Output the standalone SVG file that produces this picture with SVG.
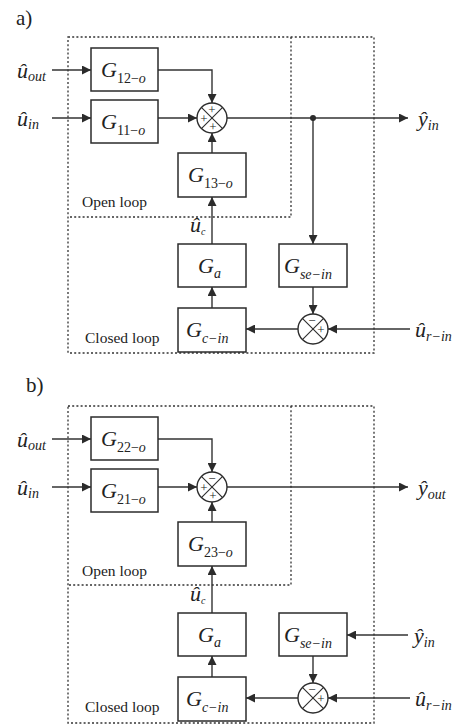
<svg xmlns="http://www.w3.org/2000/svg" width="474" height="724" viewBox="0 0 474 724">
<style>
.box{fill:#fff;stroke:#2b2b2b;stroke-width:1.5}
.ln{fill:none;stroke:#333;stroke-width:1.4}
.dot{fill:none;stroke:#333;stroke-width:1.3;stroke-dasharray:2 2.2}
.sum{fill:#fff;stroke:#2b2b2b;stroke-width:1.4}
.x{stroke:#2b2b2b;stroke-width:1.1}
.t{font-family:"Liberation Serif","Times New Roman",serif;fill:#222}
.g{font-size:22px;font-style:italic}
.s{font-size:14px}
.i{font-style:italic}
.n{font-style:normal}
.sg{font-family:"Liberation Serif",serif;font-size:13px;fill:#222;text-anchor:middle}
.lbl{font-size:15.5px}
.hd{font-size:21px}
</style>
<defs>
<marker id="ar" viewBox="0 0 10 10" refX="10" refY="5" markerWidth="9" markerHeight="9" markerUnits="userSpaceOnUse" orient="auto">
<path d="M0,0 L10,5 L0,10 z" fill="#2b2b2b"/>
</marker>
</defs>

<!-- Panel a -->
<g id="panel-a">
<text class="t hd" x="16" y="25">a)</text>
<g id="a-regions">
<rect class="dot" x="68" y="37" width="306" height="316"/>
<path class="dot" d="M291,37 V217 H68"/>
<text class="t lbl" x="82" y="207">Open loop</text>
<text class="t lbl" x="85" y="343">Closed loop</text>
</g>
<g id="a-connectors">
<line class="ln" x1="52" y1="70" x2="91" y2="70" marker-end="url(#ar)"/>
<line class="ln" x1="52" y1="118" x2="91" y2="118" marker-end="url(#ar)"/>
<path class="ln" d="M158,70 H212 V103" marker-end="url(#ar)"/>
<line class="ln" x1="158" y1="118" x2="197" y2="118" marker-end="url(#ar)"/>
<line class="ln" x1="212" y1="153" x2="212" y2="133" marker-end="url(#ar)"/>
<line class="ln" x1="227" y1="118" x2="408" y2="118" marker-end="url(#ar)"/>
<line class="ln" x1="313" y1="118" x2="313" y2="244" marker-end="url(#ar)"/>
<line class="ln" x1="313" y1="287" x2="313" y2="314" marker-end="url(#ar)"/>
<line class="ln" x1="298" y1="329" x2="246" y2="329" marker-end="url(#ar)"/>
<line class="ln" x1="410" y1="329" x2="328" y2="329" marker-end="url(#ar)"/>
<line class="ln" x1="212" y1="308" x2="212" y2="287" marker-end="url(#ar)"/>
<line class="ln" x1="212" y1="244" x2="212" y2="197" marker-end="url(#ar)"/>
<circle cx="313" cy="118" r="3" fill="#2b2b2b"/>
</g>
<g id="a-in-uout"><text class="t" x="17" y="78"><tspan class="g">û</tspan><tspan class="s i" dy="3">out</tspan></text></g>
<g id="a-in-uin"><text class="t" x="17" y="126"><tspan class="g">û</tspan><tspan class="s i" dy="3">in</tspan></text></g>
<g id="a-out-yin"><text class="t" x="418" y="126"><tspan class="g">ŷ</tspan><tspan class="s i" dy="4">in</tspan></text></g>
<g id="a-in-urin"><text class="t" x="415" y="337"><tspan class="g">û</tspan><tspan class="s i" dy="4">r−in</tspan></text></g>
<g id="a-uc"><text class="t" x="190" y="232"><tspan class="g" font-size="19">û</tspan><tspan class="i" font-size="10" dy="3">c</tspan></text></g>
<g id="a-G12"><rect class="box" x="91" y="48" width="67" height="43"/><text class="t" x="101" y="77"><tspan class="g">G</tspan><tspan class="s n" dy="6">12−</tspan><tspan class="s i">o</tspan></text></g>
<g id="a-G11"><rect class="box" x="91" y="100" width="67" height="43"/><text class="t" x="101" y="129"><tspan class="g">G</tspan><tspan class="s n" dy="6">11−</tspan><tspan class="s i">o</tspan></text></g>
<g id="a-G13"><rect class="box" x="178" y="153" width="68" height="44"/><text class="t" x="188" y="182"><tspan class="g">G</tspan><tspan class="s n" dy="6">13−</tspan><tspan class="s i">o</tspan></text></g>
<g id="a-Ga"><rect class="box" x="178" y="244" width="68" height="43"/><text class="t" x="198" y="273"><tspan class="g">G</tspan><tspan class="s i" dy="5">a</tspan></text></g>
<g id="a-Gc"><rect class="box" x="178" y="308" width="68" height="44"/><text class="t" x="186" y="337"><tspan class="g">G</tspan><tspan class="s i" dy="6">c−in</tspan></text></g>
<g id="a-Gse"><rect class="box" x="279" y="244" width="68" height="43"/><text class="t" x="284" y="273"><tspan class="g">G</tspan><tspan class="s i" dy="6">se−in</tspan></text></g>
<g id="a-sum1">
<circle class="sum" cx="212" cy="118" r="15"/>
<line class="x" x1="201.4" y1="107.4" x2="222.6" y2="128.6"/><line class="x" x1="222.6" y1="107.4" x2="201.4" y2="128.6"/>
<text class="sg" x="212" y="114">+</text><text class="sg" x="204" y="122.5">+</text><text class="sg" x="213" y="131">+</text>
</g>
<g id="a-sum2">
<circle class="sum" cx="313" cy="329" r="15"/>
<line class="x" x1="302.4" y1="318.4" x2="323.6" y2="339.6"/><line class="x" x1="323.6" y1="318.4" x2="302.4" y2="339.6"/>
<text class="sg" x="312" y="325">−</text><text class="sg" x="321" y="334">+</text>
</g>
</g>

<!-- Panel b -->
<g id="panel-b">
<text class="t hd" x="26" y="392">b)</text>
<g id="b-regions">
<rect class="dot" x="68" y="406" width="306" height="317"/>
<path class="dot" d="M291,406 V585 H68"/>
<text class="t lbl" x="82" y="576">Open loop</text>
<text class="t lbl" x="85" y="712">Closed loop</text>
</g>
<g id="b-connectors">
<line class="ln" x1="52" y1="439" x2="91" y2="439" marker-end="url(#ar)"/>
<line class="ln" x1="52" y1="487" x2="91" y2="487" marker-end="url(#ar)"/>
<path class="ln" d="M158,439 H212 V472" marker-end="url(#ar)"/>
<line class="ln" x1="158" y1="487" x2="197" y2="487" marker-end="url(#ar)"/>
<line class="ln" x1="212" y1="522" x2="212" y2="502" marker-end="url(#ar)"/>
<line class="ln" x1="227" y1="487" x2="408" y2="487" marker-end="url(#ar)"/>
<line class="ln" x1="408" y1="635" x2="347" y2="635" marker-end="url(#ar)"/>
<line class="ln" x1="313" y1="656" x2="313" y2="683" marker-end="url(#ar)"/>
<line class="ln" x1="298" y1="698" x2="246" y2="698" marker-end="url(#ar)"/>
<line class="ln" x1="410" y1="698" x2="328" y2="698" marker-end="url(#ar)"/>
<line class="ln" x1="212" y1="677" x2="212" y2="656" marker-end="url(#ar)"/>
<line class="ln" x1="212" y1="613" x2="212" y2="566" marker-end="url(#ar)"/>
</g>
<g id="b-in-uout"><text class="t" x="17" y="447"><tspan class="g">û</tspan><tspan class="s i" dy="3">out</tspan></text></g>
<g id="b-in-uin"><text class="t" x="17" y="495"><tspan class="g">û</tspan><tspan class="s i" dy="3">in</tspan></text></g>
<g id="b-out-yout"><text class="t" x="418" y="495"><tspan class="g">ŷ</tspan><tspan class="s i" dy="4">out</tspan></text></g>
<g id="b-in-yin"><text class="t" x="414" y="643"><tspan class="g">ŷ</tspan><tspan class="s i" dy="4">in</tspan></text></g>
<g id="b-in-urin"><text class="t" x="415" y="706"><tspan class="g">û</tspan><tspan class="s i" dy="4">r−in</tspan></text></g>
<g id="b-uc"><text class="t" x="190" y="601"><tspan class="g" font-size="19">û</tspan><tspan class="i" font-size="10" dy="3">c</tspan></text></g>
<g id="b-G22"><rect class="box" x="91" y="417" width="67" height="43"/><text class="t" x="101" y="446"><tspan class="g">G</tspan><tspan class="s n" dy="6">22−</tspan><tspan class="s i">o</tspan></text></g>
<g id="b-G21"><rect class="box" x="91" y="469" width="67" height="43"/><text class="t" x="101" y="498"><tspan class="g">G</tspan><tspan class="s n" dy="6">21−</tspan><tspan class="s i">o</tspan></text></g>
<g id="b-G23"><rect class="box" x="178" y="522" width="68" height="44"/><text class="t" x="188" y="551"><tspan class="g">G</tspan><tspan class="s n" dy="6">23−</tspan><tspan class="s i">o</tspan></text></g>
<g id="b-Ga"><rect class="box" x="178" y="613" width="68" height="43"/><text class="t" x="198" y="642"><tspan class="g">G</tspan><tspan class="s i" dy="5">a</tspan></text></g>
<g id="b-Gc"><rect class="box" x="178" y="677" width="68" height="44"/><text class="t" x="186" y="706"><tspan class="g">G</tspan><tspan class="s i" dy="6">c−in</tspan></text></g>
<g id="b-Gse"><rect class="box" x="279" y="613" width="68" height="43"/><text class="t" x="284" y="642"><tspan class="g">G</tspan><tspan class="s i" dy="6">se−in</tspan></text></g>
<g id="b-sum1">
<circle class="sum" cx="212" cy="487" r="15"/>
<line class="x" x1="201.4" y1="476.4" x2="222.6" y2="497.6"/><line class="x" x1="222.6" y1="476.4" x2="201.4" y2="497.6"/>
<text class="sg" x="212" y="483">−</text><text class="sg" x="204" y="491.5">+</text><text class="sg" x="213" y="500">+</text>
</g>
<g id="b-sum2">
<circle class="sum" cx="313" cy="698" r="15"/>
<line class="x" x1="302.4" y1="687.4" x2="323.6" y2="708.6"/><line class="x" x1="323.6" y1="687.4" x2="302.4" y2="708.6"/>
<text class="sg" x="312" y="694">−</text><text class="sg" x="321" y="703">+</text>
</g>
</g>
</svg>
